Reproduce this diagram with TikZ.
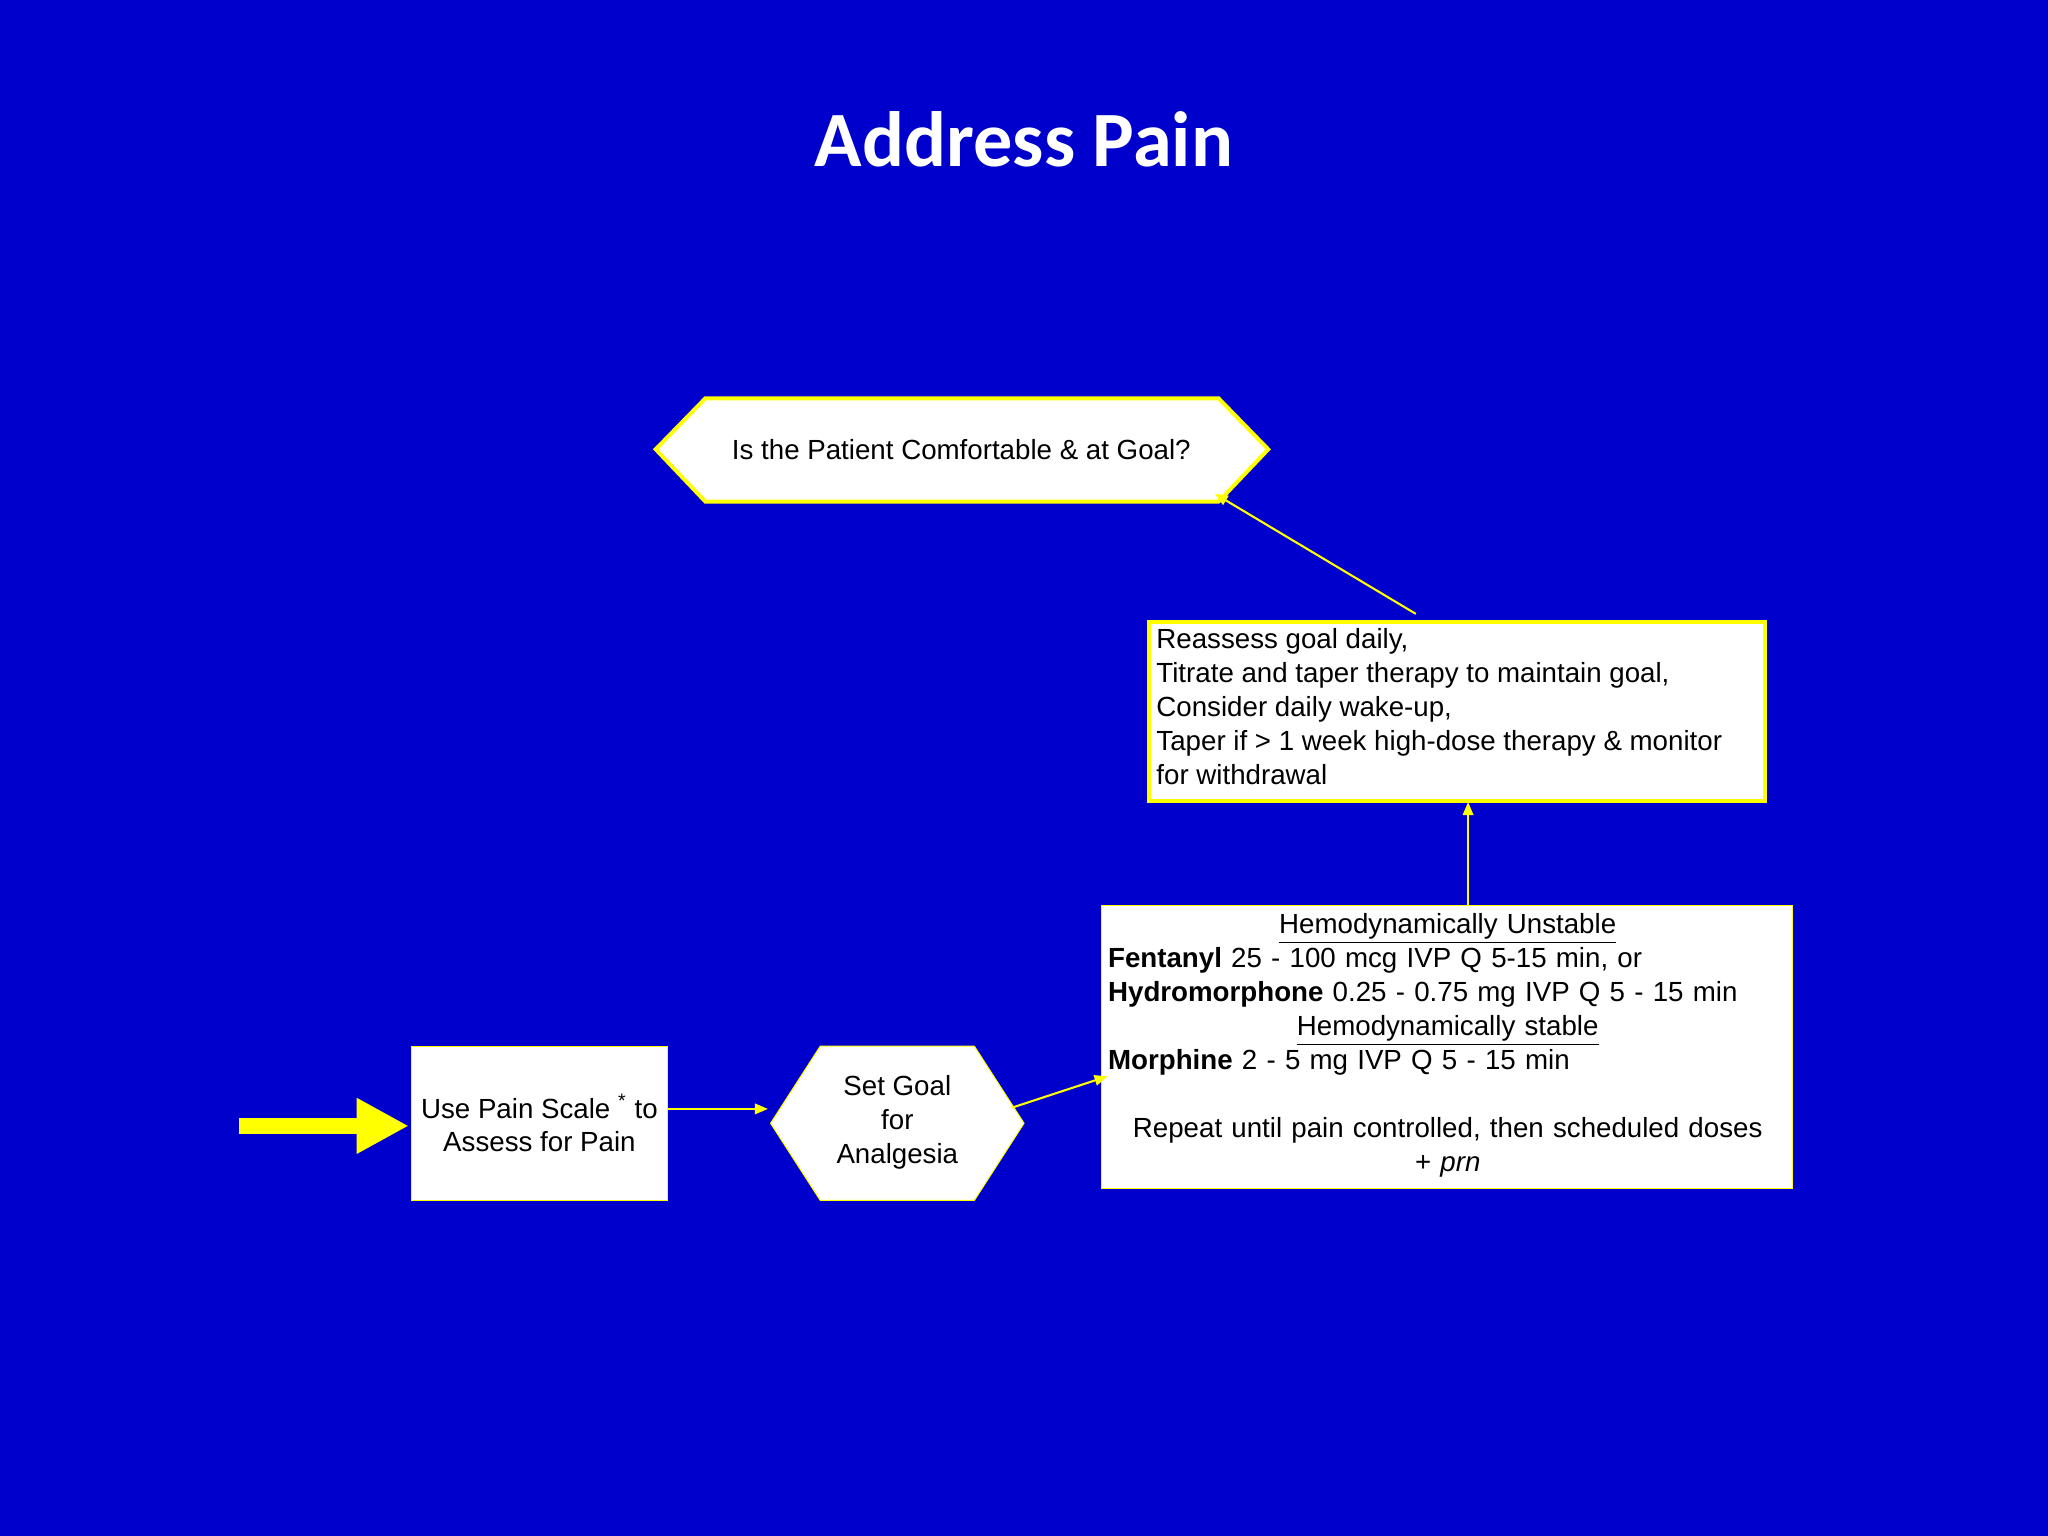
\documentclass[tikz,border=0pt]{standalone}
\usepackage{fontspec}
\setmainfont{Liberation Sans}
\newfontfamily\titlefont{Carlito}
\usetikzlibrary{arrows.meta,shadows}
\definecolor{bg}{RGB}{0,0,204}
\definecolor{yel}{RGB}{255,255,0}
\newcommand{\cenline}[1]{\hbox to\linewidth{\hfil#1\hfil}}
\begin{document}
\begin{tikzpicture}[x=0.5pt,y=-0.5pt,
  box/.style={draw=yel,fill=white,line width=1pt},
  txt/.style={font=\fontsize{10.6}{13}\selectfont,text=black,inner sep=0pt},
  con/.style={draw=yel,line width=0.8pt,-{Triangle[length=5pt,width=4pt]}}]
\fill[bg] (0,0) rectangle (1568,1176);
\node[font=\titlefont\bfseries\fontsize{30}{34}\selectfont,text=white] (title) at (784,107) {Address Pain};
% top hexagon
\draw[box,line width=1.5pt] (502,344)--(540,305)--(933,305)--(971,344)--(933,384)--(540,384)--cycle;
\node[txt] (q) at (736,344) {Is the Patient Comfortable \& at Goal?};
\coordinate (qin) at (930,378);
% reassess box
\draw[box,line width=1.5pt] (880,476) rectangle (1351,613);
\node[txt,anchor=north west,align=left] (re) at (885,481) {Reassess goal daily,\\Titrate and taper therapy to maintain goal,\\Consider daily wake-up,\\Taper if > 1 week high-dose therapy \& monitor\\for withdrawal};
\coordinate (reout) at (1084,470);
\coordinate (rein) at (1124,614);
% drug box
\draw[box,line width=0.4pt] (843,693) rectangle (1372,910);
\node[txt,anchor=north west,text width=260pt,align=left] (drug) at (848,699) {%
\cenline{\underline{Hemodynamically Unstable}}
\textbf{Fentanyl} 25 - 100 mcg IVP Q 5-15 min, or\\
\textbf{Hydromorphone} 0.25 - 0.75 mg IVP Q 5 - 15 min\\
\cenline{\underline{Hemodynamically stable}}
\textbf{Morphine} 2 - 5 mg IVP Q 5 - 15 min\\
\mbox{}\\
\cenline{Repeat until pain controlled, then scheduled doses}
\cenline{+ \textit{prn}}};
\coordinate (drugtop) at (1124,693);
\coordinate (drugin) at (848,824);
% pain scale box
\draw[box,line width=0.4pt] (315,801) rectangle (511,919);
\node[txt,align=center] (ps) at (413,860) {Use Pain Scale \textsuperscript{*} to\\Assess for Pain};
\coordinate (psout) at (511,849);
% set goal hexagon
\draw[box,line width=0.4pt] (590,860)--(628,801)--(746,801)--(784,860)--(746,919)--(628,919)--cycle;
\node[txt,align=center] (sg) at (687,859) {Set Goal\\for\\Analgesia};
\coordinate (sgin) at (588,849);
\coordinate (sgout) at (775,848);
% entry arrow
\coordinate (start) at (183,862);
\coordinate (entry) at (313,862);
\draw[draw=yel,line width=6pt,-{Triangle[length=20pt,width=20pt]}] (start)--(entry);
\draw[con] (psout)--(sgin);
\draw[con] (sgout)--(drugin);
\draw[con] (drugtop)--(rein);
\draw[con] (reout)--(qin);
\end{tikzpicture}
\end{document}
